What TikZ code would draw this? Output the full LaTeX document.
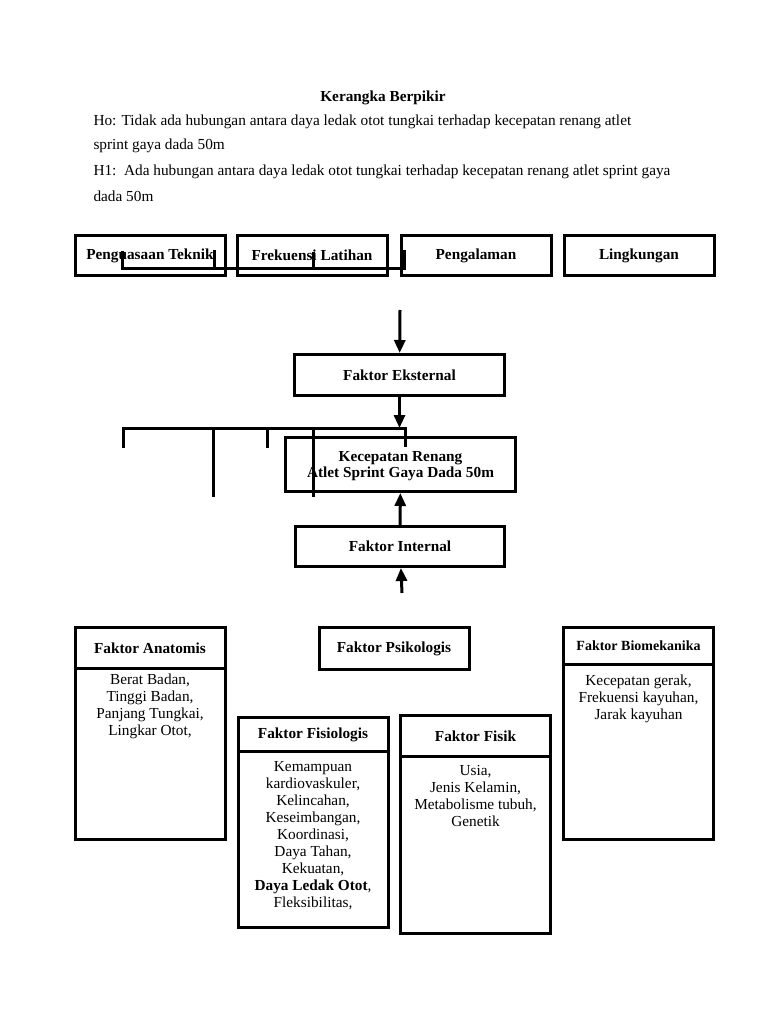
\documentclass[tikz,border=0pt]{standalone}
\usepackage{fontspec}
\setmainfont{Liberation Serif}
\usetikzlibrary{arrows.meta,positioning}
\newcommand{\isi}[2]{\parbox[t][#1][t]{144pt}{\centering #2}}

\begin{document}
\begin{tikzpicture}[->,>={Triangle[length=13pt,width=11pt]},x=1pt,y=-1pt,line width=3pt,
	font=\fontsize{15.3}{17}\selectfont]
	\tikzstyle{kotak}=[draw,line width=3pt,font=\fontsize{15.3}{16}\selectfont\bfseries,align=center,inner sep=2pt]
	\tikzstyle{atas}=[kotak,minimum width=150pt,minimum height=40pt]
	\tikzstyle{judulfaktor}=[kotak,minimum width=150pt]
	\tikzstyle{isifaktor}=[draw,line width=3pt,inner xsep=3pt,inner ysep=4pt]
	\tikzstyle{teks}=[anchor=base west,inner sep=0pt]

	\useasboundingbox (0,0) rectangle (768,1024);

	% judul dan hipotesis
	\node[anchor=base,inner sep=0pt] (judul) at (383,102) {\bfseries Kerangka Berpikir};
	\node[teks] (ho) at (92,126) {Ho: Tidak ada hubungan antara daya ledak otot tungkai terhadap kecepatan renang atlet};
	\node[teks] (holanjut) at (92,150) {sprint gaya dada 50m};
	\node[teks] (ha) at (92,176) {H1:\ \ Ada hubungan antara daya ledak otot tungkai terhadap kecepatan renang atlet sprint gaya};
	\node[teks] (halanjut) at (92,202) {dada 50m};

	% faktor eksternal
	\node[atas] (teknik) at (150,255.5) {Penguasaan Teknik};
	\node[atas] (latihan) [right=9pt of teknik] {Frekuensi Latihan};
	\node[atas] (pengalaman) [right=11pt of latihan] {Pengalaman};
	\node[atas] (lingkungan) [right=10pt of pengalaman] {Lingkungan};

	\draw[-] (122,251) -- (122,268) -- (404,268) -- (404,250);
	\draw[-] (214,250) -- (214,268);
	\draw[-] (313,252) -- (313,268);

	% kolom tengah
	\coordinate (masuk) at (400,310);
	\coordinate (garis) at (401,428);
	\coordinate (dasar) at (402,593);
	\node[kotak,minimum width=210pt,minimum height=41pt] (eksternal) at (399.5,375) {Faktor Eksternal};
	\node[kotak,minimum width=230pt,minimum height=54pt] (kecepatan) at (400.5,464.5) {\rule{0pt}{14pt}Kecepatan Renang\\Atlet Sprint Gaya Dada 50m};
	\node[kotak,minimum width=209pt,minimum height=40pt] (internal) at (400,546.5) {Faktor Internal};

	\path (masuk) edge (eksternal);
	\path (eksternal) edge (eksternal.south |- garis);
	\path (internal) edge (kecepatan);
	\path (dasar) edge (internal);

	\draw[-] (123,448) -- (123,428) -- (405,428) -- (405,447);
	\draw[-] (213,428) -- (213,497);
	\draw[-] (267,428) -- (267,448);
	\draw[-] (313,428) -- (313,497);

	% faktor internal
	\node[judulfaktor,minimum height=41pt] (anatomis) at (150,648) {Faktor Anatomis};
	\node[isifaktor] (isianatomis) [below=-3pt of anatomis] {\isi{163pt}{\vspace{1pt}Berat Badan,\\Tinggi Badan,\\Panjang Tungkai,\\Lingkar Otot,}};

	\node[judulfaktor,minimum height=42pt] (psikologis) at (394,648.5) {Faktor Psikologis};

	\node[judulfaktor,minimum height=37pt,font=\fontsize{14}{16}\selectfont\bfseries] (biomekanika) at (638.5,646) {Faktor Biomekanika};
	\node[isifaktor] (isibiomekanika) [below=-3pt of biomekanika] {\isi{167pt}{\vspace{6pt}Kecepatan gerak,\\Frekuensi kayuhan,\\Jarak kayuhan}};

	\node[judulfaktor,minimum height=34pt] (fisiologis) at (313,734.5) {Faktor Fisiologis};
	\node[isifaktor] (isifisiologis) [below=-3pt of fisiologis] {\isi{168pt}{\vspace{6pt}Kemampuan\\kardiovaskuler,\\Kelincahan,\\Keseimbangan,\\Koordinasi,\\Daya Tahan,\\Kekuatan,\\\textbf{Daya Ledak Otot},\\Fleksibilitas,}};

	\node[judulfaktor,minimum height=41pt] (fisik) at (475.5,736) {Faktor Fisik};
	\node[isifaktor] (isifisik) [below=-3pt of fisik] {\isi{169pt}{\vspace{5pt}Usia,\\Jenis Kelamin,\\Metabolisme tubuh,\\Genetik}};
\end{tikzpicture}
\end{document}
